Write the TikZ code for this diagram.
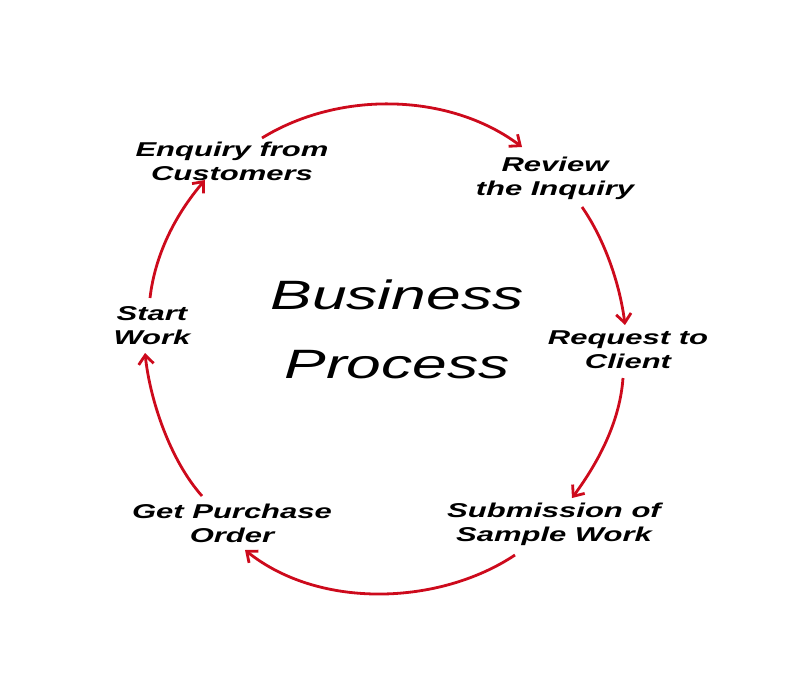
\documentclass[tikz,border=0pt]{standalone}
\usepackage{fontspec}
\setmainfont{Liberation Sans}
\usetikzlibrary{arrows.meta}
\definecolor{arcred}{RGB}{205,10,28}
\tikzset{
  lab/.style={align=center,font=\fontsize{20}{24}\selectfont\bfseries\itshape,inner sep=0pt,text=black,xscale=1.55},
  ttl/.style={font=\fontsize{41}{44}\selectfont\itshape,inner sep=0pt,text=black,xscale=1.52},
  arc/.style={draw=arcred,line width=2.8pt,-{Straight Barb[length=9pt,width=15pt,line width=2.8pt]}}
}
\begin{document}
\begin{tikzpicture}[x=1pt,y=-1pt]
\useasboundingbox (0,0) rectangle (800,693);
\node[ttl] (t1) at (397,295) {Business};
\node[ttl] (t2) at (397,365) {Process};
\node[lab] (a) at (232,161) {Enquiry from\\Customers};
\node[lab] (b) at (555,178) {Review\\the Inquiry};
\node[lab] (c) at (628,350) {Request to\\Client};
\node[lab] (d) at (554,524) {Submission of\\Sample Work};
\node[lab] (e) at (232,523) {Get Purchase\\Order};
\node[lab] (f) at (152,326) {Start\\Work};
\coordinate (a0) at (262,138); \coordinate (a1) at (522,147);
\coordinate (b0) at (582,207); \coordinate (b1) at (625,325);
\coordinate (c0) at (623,378); \coordinate (c1) at (572,498);
\coordinate (d0) at (515,555); \coordinate (d1) at (245,550);
\coordinate (e0) at (202,496); \coordinate (e1) at (145,353);
\coordinate (f0) at (150,298); \coordinate (f1) at (205,180);
\draw[arc] (a0) .. controls (340,90) and (450,93) .. (a1);
\draw[arc] (b0) .. controls (605,240) and (620,285) .. (b1);
\draw[arc] (c0) .. controls (620,420) and (600,460) .. (c1);
\draw[arc] (d0) .. controls (440,605) and (320,610) .. (d1);
\draw[arc] (e0) .. controls (170,460) and (150,400) .. (e1);
\draw[arc] (f0) .. controls (155,255) and (175,215) .. (f1);
\end{tikzpicture}
\end{document}
